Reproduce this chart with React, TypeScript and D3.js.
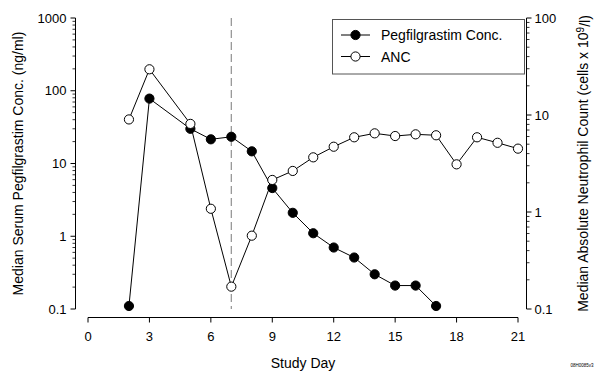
import React from "react";
import * as d3 from "d3";

const pegDays = [2, 3, 5, 6, 7, 8, 9, 10, 11, 12, 13, 14, 15, 16, 17];
const pegConc = [0.11, 78, 30, 21.5, 23.3, 14.7, 4.6, 2.1, 1.1, 0.7, 0.51, 0.3, 0.21, 0.21, 0.11];

const ancDays = [2, 3, 5, 6, 7, 8, 9, 10, 11, 12, 13, 14, 15, 16, 17, 18, 19, 20, 21];
const ancValues = [9.0, 29.6, 8.1, 1.08, 0.17, 0.57, 2.14, 2.65, 3.66, 4.71, 5.89, 6.47, 6.07, 6.32, 6.18, 3.1, 5.89, 5.17, 4.5];

const xTicks = [0, 3, 6, 9, 12, 15, 18, 21];
const leftTicks = [0.1, 1, 10, 100, 1000];
const rightTicks = [0.1, 1, 10, 100];
const markerDay = 7;

const font = "Liberation Sans, Arial, sans-serif";

function minorTicks(lo: number, hi: number): number[] {
  const out: number[] = [];
  for (let d = lo; d < hi; d *= 10) {
    for (let m = 2; m <= 9; m++) out.push(d * m);
  }
  return out;
}

export default function App() {
  const W = 602, H = 379;
  const x = d3.scaleLinear().domain([0, 21]).range([88, 518]);
  const yL = d3.scaleLog().domain([0.1, 1000]).range([309, 18]);
  const yR = d3.scaleLog().domain([0.1, 100]).range([309, 18]);
  const axL = 75.5, axR = 526.5, axB = 317.5;

  const pegLine = d3.line<number>().x((_, i) => x(pegDays[i])).y((v) => yL(v))(pegConc) || "";
  const ancLine = d3.line<number>().x((_, i) => x(ancDays[i])).y((v) => yR(v))(ancValues) || "";
  const r = 4.6;

  return (
    <svg width={W} height={H} style={{ position: "absolute", left: 0, top: 0 }} fontFamily={font}>
      <rect width={W} height={H} fill="white" />
      {/* left axis */}
      <line x1={axL} x2={axL} y1={yL(1000)} y2={yL(0.1)} stroke="black" />
      {leftTicks.map((t) => (
        <g key={"l" + t}>
          <line x1={axL - 5} x2={axL} y1={yL(t)} y2={yL(t)} stroke="black" />
          <text x={axL - 9} y={yL(t)} dy="0.36em" textAnchor="end" fontSize={13}>{t}</text>
        </g>
      ))}
      {minorTicks(0.1, 1000).map((t) => (
        <line key={"lm" + t} x1={axL - 3} x2={axL} y1={yL(t)} y2={yL(t)} stroke="black" strokeWidth={0.8} />
      ))}
      {/* right axis */}
      <line x1={axR} x2={axR} y1={yR(100)} y2={yR(0.1)} stroke="black" />
      {rightTicks.map((t) => (
        <g key={"r" + t}>
          <line x1={axR} x2={axR + 5} y1={yR(t)} y2={yR(t)} stroke="black" />
          <text x={axR + 8} y={yR(t)} dy="0.36em" textAnchor="start" fontSize={13}>{t}</text>
        </g>
      ))}
      {minorTicks(0.1, 100).map((t) => (
        <line key={"rm" + t} x1={axR} x2={axR + 3} y1={yR(t)} y2={yR(t)} stroke="black" strokeWidth={0.8} />
      ))}
      {/* bottom axis */}
      <line x1={x(0)} x2={x(21)} y1={axB} y2={axB} stroke="black" />
      {xTicks.map((t) => (
        <g key={"x" + t}>
          <line x1={x(t)} x2={x(t)} y1={axB} y2={axB + 5} stroke="black" />
          <text x={x(t)} y={axB + 19} dy="0.36em" textAnchor="middle" fontSize={13}>{t}</text>
        </g>
      ))}
      {/* dashed reference line */}
      <line x1={x(markerDay)} x2={x(markerDay)} y1={18} y2={309} stroke="#999" strokeWidth={1.3} strokeDasharray="8,4" />
      {/* series */}
      <path d={pegLine} fill="none" stroke="black" strokeWidth={1} />
      <path d={ancLine} fill="none" stroke="black" strokeWidth={1} />
      {pegConc.map((v, i) => (
        <circle key={"p" + i} cx={x(pegDays[i])} cy={yL(v)} r={r} fill="black" stroke="black" />
      ))}
      {ancValues.map((v, i) => (
        <circle key={"a" + i} cx={x(ancDays[i])} cy={yR(v)} r={r} fill="white" stroke="black" />
      ))}
      {/* legend */}
      <rect x={332.5} y={19.5} width={192} height={54.5} fill="white" stroke="#555" />
      <line x1={341} x2={370} y1={35} y2={35} stroke="black" />
      <circle cx={355.5} cy={35} r={r} fill="black" stroke="black" />
      <text x={381} y={35} dy="0.36em" fontSize={14}>Pegfilgrastim Conc.</text>
      <line x1={341} x2={370} y1={56.5} y2={56.5} stroke="black" />
      <circle cx={355.5} cy={56.5} r={r} fill="white" stroke="black" />
      <text x={381} y={56.5} dy="0.36em" fontSize={14}>ANC</text>
      {/* axis titles */}
      <text x={x(10.5)} y={363} dy="0.36em" textAnchor="middle" fontSize={14}>Study Day</text>
      <text transform={`translate(18,${(18 + 309) / 2}) rotate(-90)`} dy="0.36em" textAnchor="middle" fontSize={14}>
        Median Serum Pegfilgrastim Conc. (ng/ml)
      </text>
      <text transform={`translate(583,${(18 + 309) / 2}) rotate(-90)`} dy="0.36em" textAnchor="middle" fontSize={14}>
        Median Absolute Neutrophil Count (cells x 10<tspan dy="-0.4em" fontSize={10}>9</tspan><tspan dy="0.4em">/l)</tspan>
      </text>
      <text x={582} y={367} textAnchor="middle" fontSize={4.5}>08H0085v3</text>
    </svg>
  );
}
